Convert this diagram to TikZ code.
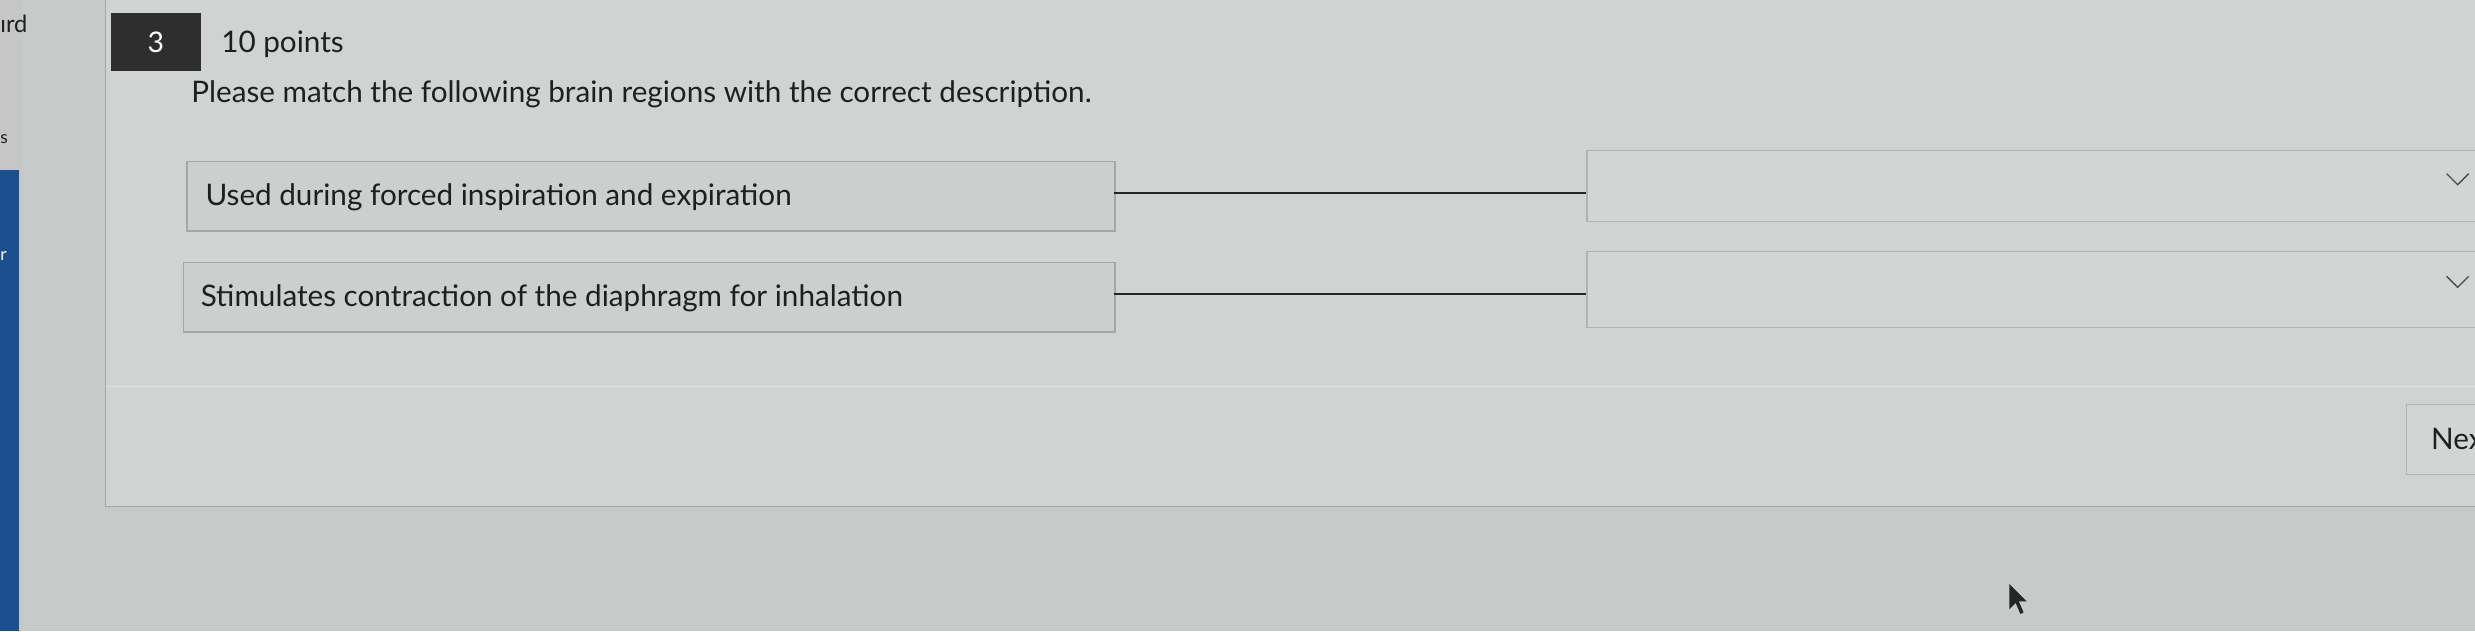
\documentclass[tikz,border=0pt]{standalone}
\usepackage{fontspec}
\setmainfont{Lato}
\definecolor{bgc}{HTML}{C6CBCA}
\definecolor{cardc}{HTML}{CFD3D2}
\definecolor{boxc}{HTML}{CBCFCE}
\definecolor{ansc}{HTML}{D1D5D4}
\definecolor{bluec}{HTML}{1C4F8E}
\begin{document}
\begin{tikzpicture}[x=1pt,y=-1pt,
  txt/.style={font=\fontsize{18.8}{22}\selectfont, text=black!88, anchor=west, inner sep=0},
  qbox/.style={draw=black!35, fill=boxc, line width=0.8pt},
  ansbox/.style={draw=black!30, fill=ansc, line width=0.8pt},
  conn/.style={line width=1.3pt, black!85}]
\useasboundingbox (0,0) rectangle (1568,400);
\fill[bgc] (0,0) rectangle (1568,400);
\fill[gray!45!white] (0,0) rectangle (14,400);
\fill[bluec] (0,108) rectangle (12,400);
\node[txt, font=\fontsize{15}{18}\selectfont] (ard) at (0,15) {ırd};
\node[txt, font=\fontsize{11}{13}\selectfont] (s) at (0,88) {s};
\node[txt, font=\fontsize{11}{13}\selectfont, text=white] (r) at (0,162) {r};
% card
\fill[cardc] (67,-2) rectangle (1568,321);
\draw[black!35, line width=0.8pt] (67,-2) -- (67,321) -- (1570,321);
\node[fill=black!82, minimum width=57, minimum height=37, inner sep=0, text=white,
  font=\fontsize{18}{21}\selectfont, anchor=north west] (num) at (70,8) {3};
\node[txt] (pts) at (140,28) {10 points};
\node[txt] (q) at (121,60) {Please match the following brain regions with the correct description.};
% row 1
\node[qbox, anchor=north west, minimum width=588, minimum height=44, inner sep=0] (l1) at (118,102) {};
\node[txt] (t1) at (130,125) {Used during forced inspiration and expiration};
\node[ansbox, anchor=north west, minimum width=570, minimum height=45, inner sep=0] (r1) at (1005,95) {};
\coordinate (l1e) at (706,122);
\coordinate (r1s) at (1005,122);
\draw[conn] (l1e) -- (r1s);
\draw[black!70, line width=0.8pt] (1550,110) -- (1557,117) -- (1564,110);
% row 2
\node[qbox, anchor=north west, minimum width=590, minimum height=44, inner sep=0] (l2) at (116,166) {};
\node[txt] (t2) at (127,189) {Stimulates contraction of the diaphragm for inhalation};
\node[ansbox, anchor=north west, minimum width=570, minimum height=48, inner sep=0] (r2) at (1005,159) {};
\coordinate (l2e) at (706,186);
\coordinate (r2s) at (1005,186);
\draw[conn] (l2e) -- (r2s);
\draw[black!70, line width=0.8pt] (1550,175) -- (1557,182) -- (1564,175);
% separator
\draw[black!12, line width=0.8pt] (67,245) -- (1568,245);
% next button
\node[draw=black!30, fill=ansc, anchor=north west, minimum width=50, minimum height=44, inner sep=0] (nx) at (1524,256) {};
\node[txt] (nxt) at (1540,278) {Nex};
% cursor
\fill[black!85] (1273,370) -- (1273,386) -- (1277,382) -- (1280,389) -- (1282,388) -- (1279,381) -- (1284,381) -- cycle;
\end{tikzpicture}
\end{document}
